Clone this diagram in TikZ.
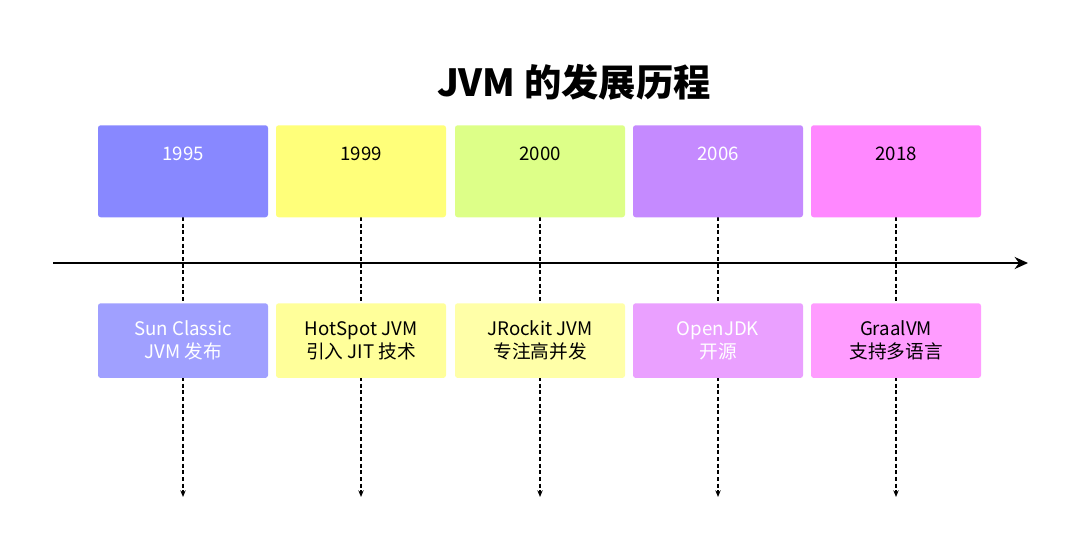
\documentclass[tikz,border=0pt]{standalone}
\usepackage{fontspec}
\setmainfont{Noto Sans CJK SC}
\usetikzlibrary{arrows.meta}
\definecolor{cA}{HTML}{8888FF}\definecolor{cAb}{HTML}{A0A0FF}
\definecolor{cB}{HTML}{FFFF7A}\definecolor{cBb}{HTML}{FFFF9A}
\definecolor{cC}{HTML}{DDFF88}\definecolor{cCb}{HTML}{FFFFA8}
\definecolor{cD}{HTML}{C58AFF}\definecolor{cDb}{HTML}{EAA0FF}
\definecolor{cE}{HTML}{FF88FF}\definecolor{cEb}{HTML}{FF9CFF}
\begin{document}
\begin{tikzpicture}[x=0.75pt,y=-0.75pt,
  yearbox/.style={rounded corners=2pt,minimum width=127.5pt,minimum height=69pt,text depth=0pt,font=\fontsize{14}{16}\selectfont,anchor=north,inner sep=0pt},
  descbox/.style={rounded corners=2pt,minimum width=127.5pt,minimum height=56pt,font=\fontsize{14}{17}\selectfont,align=center,anchor=north,inner sep=0pt},
  guide/.style={densely dashed,line width=0.9pt,-{Stealth[length=5pt,width=4pt]}}]
\useasboundingbox (0,0) rectangle (1080,549);
\node[font=\bfseries\fontsize{28}{32}\selectfont] (title) at (574,82) {JVM 的发展历程};
\coordinate (axl) at (53,263); \coordinate (axr) at (1028,263);
\draw[line width=2pt,-{Stealth[length=10pt,width=9pt]}] (axl) -- (axr);
\foreach \i/\x/\y/\d/\c/\tc/\dc in {a/183/1995/Sun Classic\\JVM 发布/A/white/white,b/361/1999/HotSpot JVM\\引入 JIT 技术/B/black/black,c/540/2000/JRockit JVM\\专注高并发/C/black/black,d/718/2006/OpenJDK\\开源/D/white/white,e/896/2018/GraalVM\\支持多语言/E/black/black}{
  \coordinate (e\i) at (\x,497);
  \draw[guide] (\x,217) -- (e\i);
  \node[yearbox,fill=c\c,text=\tc] (y\i) at (\x,125) {\raisebox{0pt}[0pt][0pt]{\smash{\raisebox{-0pt}{}}}};
  \node[text=\tc,font=\fontsize{14}{16}\selectfont] (t\i) at (\x,154) {\y};
  \node[descbox,fill=c\c b,text=\dc] (d\i) at (\x,303) {\d};
}
\end{tikzpicture}
\end{document}
